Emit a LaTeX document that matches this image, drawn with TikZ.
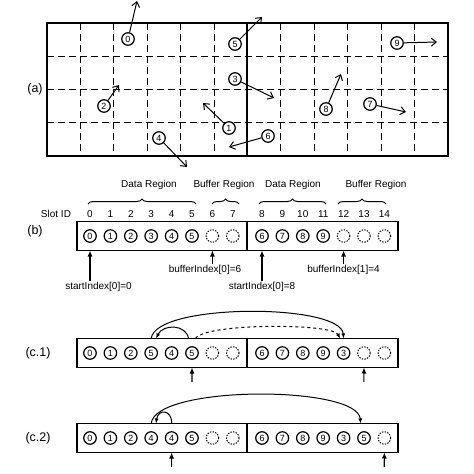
\documentclass[tikz,border=0pt]{standalone}
\usepackage{fontspec}
\setmainfont{Liberation Sans}
\usetikzlibrary{arrows.meta,decorations.pathreplacing}

\begin{document}
\begin{tikzpicture}[x=1pt,y=-1pt,
    pt/.style={circle,draw,fill=white,line width=1.2pt,inner sep=0pt,minimum size=12.5pt,font=\fontsize{9}{9}\selectfont},
    nopt/.style={pt,line width=1pt,dash pattern=on 1.4pt off 1.3pt},
    gridline/.style={line width=1pt,dash pattern=on 7pt off 4pt},
    mv/.style={line width=1pt,-{Straight Barb[length=5pt,width=8pt]}},
    ptr/.style={line width=1.1pt,-{Latex[length=6pt,width=5pt]}},
    hop/.style={line width=1pt,-{Latex[length=5pt,width=4pt]}},
    lbl/.style={inner sep=1pt,font=\fontsize{10}{12}\selectfont},
    tag/.style={font=\fontsize{12.5}{14}\selectfont}]
\useasboundingbox (0,0) rectangle (474,474);

% (a) the cells and the moving points
\node[tag] (ta) at (35,89) {(a)};
\foreach \k in {1,2,3,4,5,7,8,9,10,11}
    \draw[gridline] ({47+33.42*\k},23) -- ({47+33.42*\k},156);
\foreach \y in {56.3,89.6,122.8}
    \draw[gridline] (47,\y) -- (448,\y);
\draw[line width=1.9pt] (47,23) rectangle (448,156);
\draw[line width=1.5pt] (247,23) -- (247,156);
\foreach \n/\x/\y/\tx/\ty in {0/128/39/137/1, 5/235/44/262/17, 9/397/43/437/42,
        3/235/79/274/98, 2/104/106/119/85, 8/326/109/341/74, 7/370/104/406/112,
        1/229/128/203/103, 6/268/136/229/147, 4/159/138/187/167}
{
    \node[pt] (p\n) at (\x,\y) {\n};
    \coordinate (q\n) at (\tx,\ty);
    \draw[mv] (p\n) -- (q\n);
}

% region labels and slot ids
\node[lbl] (dr0) at (149,185) {Data Region};
\node[lbl] (br0) at (224,185) {Buffer Region};
\node[lbl] (dr1) at (293,185) {Data Region};
\node[lbl] (br1) at (376,185) {Buffer Region};
\foreach \a/\b in {88/196,212/239,259/326,338/386}
    \draw[line width=1pt,decorate,decoration={brace,amplitude=5pt}] (\a,204) -- (\b,204);
\node[lbl] (sid) at (56,214) {Slot ID};
\foreach \i in {0,...,14}
{
    \pgfmathsetmacro\sx{90+20.4*\i+(\i>7)*8.8}
    \node[lbl] (n\i) at (\sx,214) {\i};
}

% the three slot arrays
\node[tag] (tb) at (35,231) {(b)};
\node[tag] (tc) at (38,353) {(c.1)};
\node[tag] (td) at (38,438) {(c.2)};
\foreach \r/\y in {b/236,c/353,d/438}
{
    \draw[line width=1.2pt] (77,{\y-14.5}) rectangle (398,{\y+14.5});
    \draw[line width=1.1pt] (247,{\y-14.5}) -- (247,{\y+14.5});
    \coordinate (\r-top) at (0,{\y-14.5});
    \coordinate (\r-bot) at (0,{\y+14.5});
}
\foreach \r/\y/\full/\free in {
        b/236/{0/0,1/1,2/2,3/3,4/4,5/5,8/6,9/7,10/8,11/9}/{6,7,12,13,14},
        c/353/{0/0,1/1,2/2,3/5,4/4,5/5,8/6,9/7,10/8,11/9,12/3}/{6,7,13,14},
        d/438/{0/0,1/1,2/2,3/4,4/4,5/5,8/6,9/7,10/8,11/9,12/3,13/5}/{6,7,14}}
{
    \foreach \i/\v in \full
    {
        \pgfmathsetmacro\sx{90+20.4*\i+(\i>7)*8.8}
        \node[pt] (\r\i) at (\sx,\y) {\v};
    }
    \foreach \i in \free
    {
        \pgfmathsetmacro\sx{90+20.4*\i+(\i>7)*8.8}
        \node[nopt] (\r\i) at (\sx,\y) {};
    }
}

% (b) index pointers
\node[lbl] (si0) at (98.5,287) {startIndex[0]=0};
\node[lbl] (bi0) at (205,270) {bufferIndex[0]=6};
\node[lbl] (si1) at (262,287) {startIndex[0]=8};
\node[lbl] (bi1) at (343.5,270) {bufferIndex[1]=4};
\draw[ptr] (si0.north -| b0) -- (b0 |- b-bot);
\draw[ptr] (bi0.north -| b6) -- (b6 |- b-bot);
\draw[ptr] (si1.north -| b8) -- (b8 |- b-bot);
\draw[ptr] (bi1.north -| b12) -- (b12 |- b-bot);

% (c.1) moves
\draw[hop] (c3 |- c-top) .. controls (155,303) and (341,303) .. (c12 |- c-top);
\draw[hop] (c5.120 |- c-top) .. controls (186,324) and (163,324) .. (c3.45 |- c-top);
\draw[hop,dashed] (c5.60 |- c-top) .. controls (205,323) and (332,323) .. (c12.120 |- c-top);
\coordinate (cq0) at (192,382);
\coordinate (cq1) at (363.8,382);
\draw[ptr] (cq0) -- (c5 |- c-bot);
\draw[ptr] (cq1) -- (c13 |- c-bot);

% (c.2) moves
\draw[hop] (d3 |- d-top) .. controls (155,385) and (358,385) .. (d13.120 |- d-top);
\draw[hop] (d4 |- d-top) .. controls (172,409) and (158,409) .. (d3.45 |- d-top);
\coordinate (dq0) at (171.6,467);
\coordinate (dq1) at (384.2,467);
\draw[ptr] (dq0) -- (d4 |- d-bot);
\draw[ptr] (dq1) -- (d14 |- d-bot);
\end{tikzpicture}
\end{document}
